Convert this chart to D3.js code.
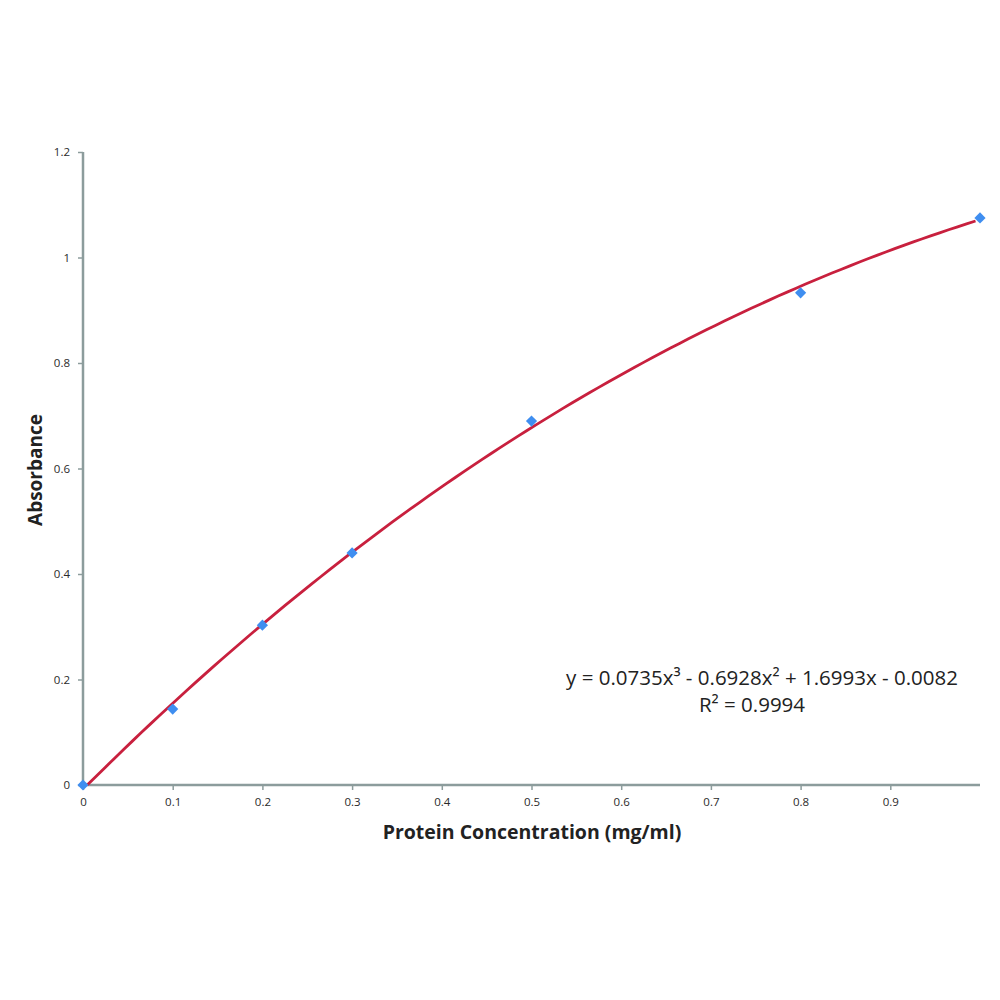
<!DOCTYPE html>
<html><head><meta charset="utf-8">
<script src="https://cdn.jsdelivr.net/npm/d3@7"></script>
<style>body{margin:0;background:#fff}svg{display:block}</style>
</head><body>
<svg id="c" width="1000" height="1000"></svg>
<script>
const concentrations = [0, 0.1, 0.2, 0.3, 0.5, 0.8, 1.0];
const absorbances = [0, 0.144, 0.303, 0.44, 0.69, 0.933, 1.075];
const xTicks = [0, 0.1, 0.2, 0.3, 0.4, 0.5, 0.6, 0.7, 0.8, 0.9];
const yTicks = [0, 0.2, 0.4, 0.6, 0.8, 1, 1.2];
const fitCoefficients = [0.0735, -0.6928, 1.6993, -0.0082]; // x^3, x^2, x, c (as printed on chart)
const equationText = "y = 0.0735x³ - 0.6928x² + 1.6993x - 0.0082";
const r2Text = "R² = 0.9994";

const svg = d3.select("#c");
const x = d3.scaleLinear().domain([0, 1]).range([83, 980]);
const y = d3.scaleLinear().domain([0, 1.2]).range([785, 152]);
const axisColor = "#8c9c9c";
const font = "'Open Sans', 'Liberation Sans', sans-serif";

const xAxis = svg.append("g").attr("transform", `translate(0,${y(0)})`)
  .call(d3.axisBottom(x).tickValues(xTicks).tickSize(5).tickPadding(8).tickFormat(d3.format("")));
const yAxis = svg.append("g").attr("transform", `translate(${x(0)},0)`)
  .call(d3.axisLeft(y).tickValues(yTicks).tickSize(5).tickPadding(8).tickFormat(d3.format("")));
[xAxis, yAxis].forEach(g => {
  g.select(".domain").attr("stroke", axisColor).attr("stroke-width", 2.5);
  g.selectAll(".tick line").attr("stroke", axisColor).attr("stroke-width", 1.5);
  g.selectAll(".tick text").attr("fill", "#2a2a2a").attr("font-size", 11.5).attr("font-family", font);
});
xAxis.select(".domain").attr("d", `M${x(0)},0H${x(1)}`);
yAxis.select(".domain").attr("d", `M0,${y(0)}V${y(1.2)}`);
yAxis.selectAll(".tick text").attr("x", -13);

// trendline from printed coefficients
const fx = xv => fitCoefficients.reduce((acc, c) => acc * xv + c, 0);
const xs = d3.range(0.005, 1.0001, 0.01);
svg.append("path")
  .attr("d", d3.line().x(d => x(d)).y(d => y(fx(d)))([0.0048, ...xs]))
  .attr("fill", "none").attr("stroke", "#c8203e").attr("stroke-width", 2.8);

svg.selectAll(".pt").data(concentrations).enter().append("path")
  .attr("transform", (d, i) => `translate(${x(d)},${y(absorbances[i])})`)
  .attr("d", d3.symbol().type(d3.symbolDiamond2).size(80))
  .attr("fill", "#3f8ef0");

svg.append("text").attr("x", 532).attr("y", 839).attr("text-anchor", "middle")
  .attr("font-family", font).attr("font-weight", "bold").attr("font-size", 19.5).attr("fill", "#222")
  .text("Protein Concentration (mg/ml)");
svg.append("text").attr("transform", "translate(42,470) rotate(-90)").attr("text-anchor", "middle")
  .attr("font-family", font).attr("font-weight", "bold").attr("font-size", 19).attr("fill", "#222")
  .text("Absorbance");
svg.append("text").attr("x", 762).attr("y", 685).attr("text-anchor", "middle")
  .attr("font-family", font).attr("font-size", 20.5).attr("fill", "#222").text(equationText);
svg.append("text").attr("x", 752).attr("y", 712).attr("text-anchor", "middle")
  .attr("font-family", font).attr("font-size", 20.5).attr("fill", "#222").text(r2Text);
</script>
</body></html>
